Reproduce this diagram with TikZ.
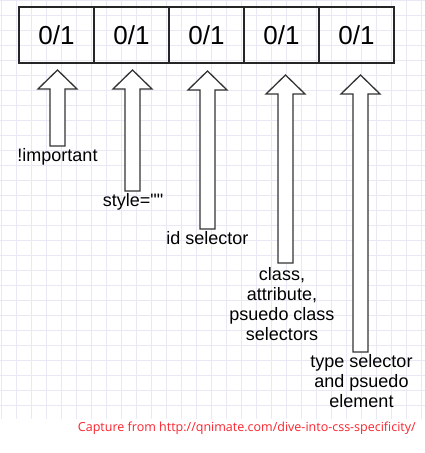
\documentclass[tikz,border=0pt]{standalone}
\usepackage{fontspec}
\setmainfont{Liberation Sans}[Ligatures=TeXOff]
\newfontfamily\capfont{Open Sans}
\usepackage{tikz}
\usetikzlibrary{positioning}
\usepackage{xcolor}
\definecolor{gridline}{RGB}{233,233,246}
\definecolor{capred}{RGB}{250,35,45}

\tikzset{
  cell/.style={draw=black!85, line width=1.5pt, minimum width=75pt, minimum height=56pt,
    inner sep=0pt, font=\fontsize{26}{28}\selectfont},
  lbl/.style={font=\fontsize{18}{20}\selectfont, align=center, inner sep=0pt, anchor=base},
  blk/.style={draw=black!80, line width=1.3pt, fill=white},
}

\begin{document}
\begin{tikzpicture}[x=1pt, y=-1pt]
        \useasboundingbox (0,0) rectangle (425,453);
        % background grid
        \begin{scope}
          \clip (0,0) rectangle (425,419);
          \foreach \gx in {1,16,...,426} \draw[gridline, line width=0.8pt] (\gx,0) -- (\gx,419);
          \foreach \gy in {0,15,...,419} \draw[gridline, line width=0.8pt] (0,\gy) -- (425,\gy);
        \end{scope}
        % the five counters
        \foreach \i/\cx in {1/56.5, 2/131.5, 3/206.5, 4/281.5, 5/356.5}
          \node[cell] (c\i) at (\cx,35) {0/1};
        % block arrows: centre x / tip / head base / bottom
        \foreach \ax/\tip/\hb/\bot in {57.5/70/89/146, 132.5/70/89/191, 207.5/71/90/229,
                                        285.5/75/94/263, 360.5/75/94/352}
          \draw[blk] (\ax-7.5,\bot) -- (\ax-7.5,\hb) -- (\ax-19.5,\hb) -- (\ax,\tip)
                     -- (\ax+19.5,\hb) -- (\ax+7.5,\hb) -- (\ax+7.5,\bot) -- cycle;
        % labels (base = last line)
        \node[lbl] (imp) at (57.5,161) {!important};
        \node[lbl] (inl) at (133,206) {style=""};
        \node[lbl] (ids) at (207.5,244) {id selector};
        \node[lbl] (cls) at (282,340) {class,\\ attribute,\\ psuedo class\\ selectors};
        \node[lbl] (typ) at (361.5,407) {type selector\\ and psuedo\\ element};
        \node[anchor=base east, inner sep=0pt, text=capred, font=\capfont\fontsize{12.5}{14}\selectfont]
          (src) at (416,431) {Capture from http://qnimate.com/dive-into-css-specificity/};
      \end{tikzpicture}
\end{document}
